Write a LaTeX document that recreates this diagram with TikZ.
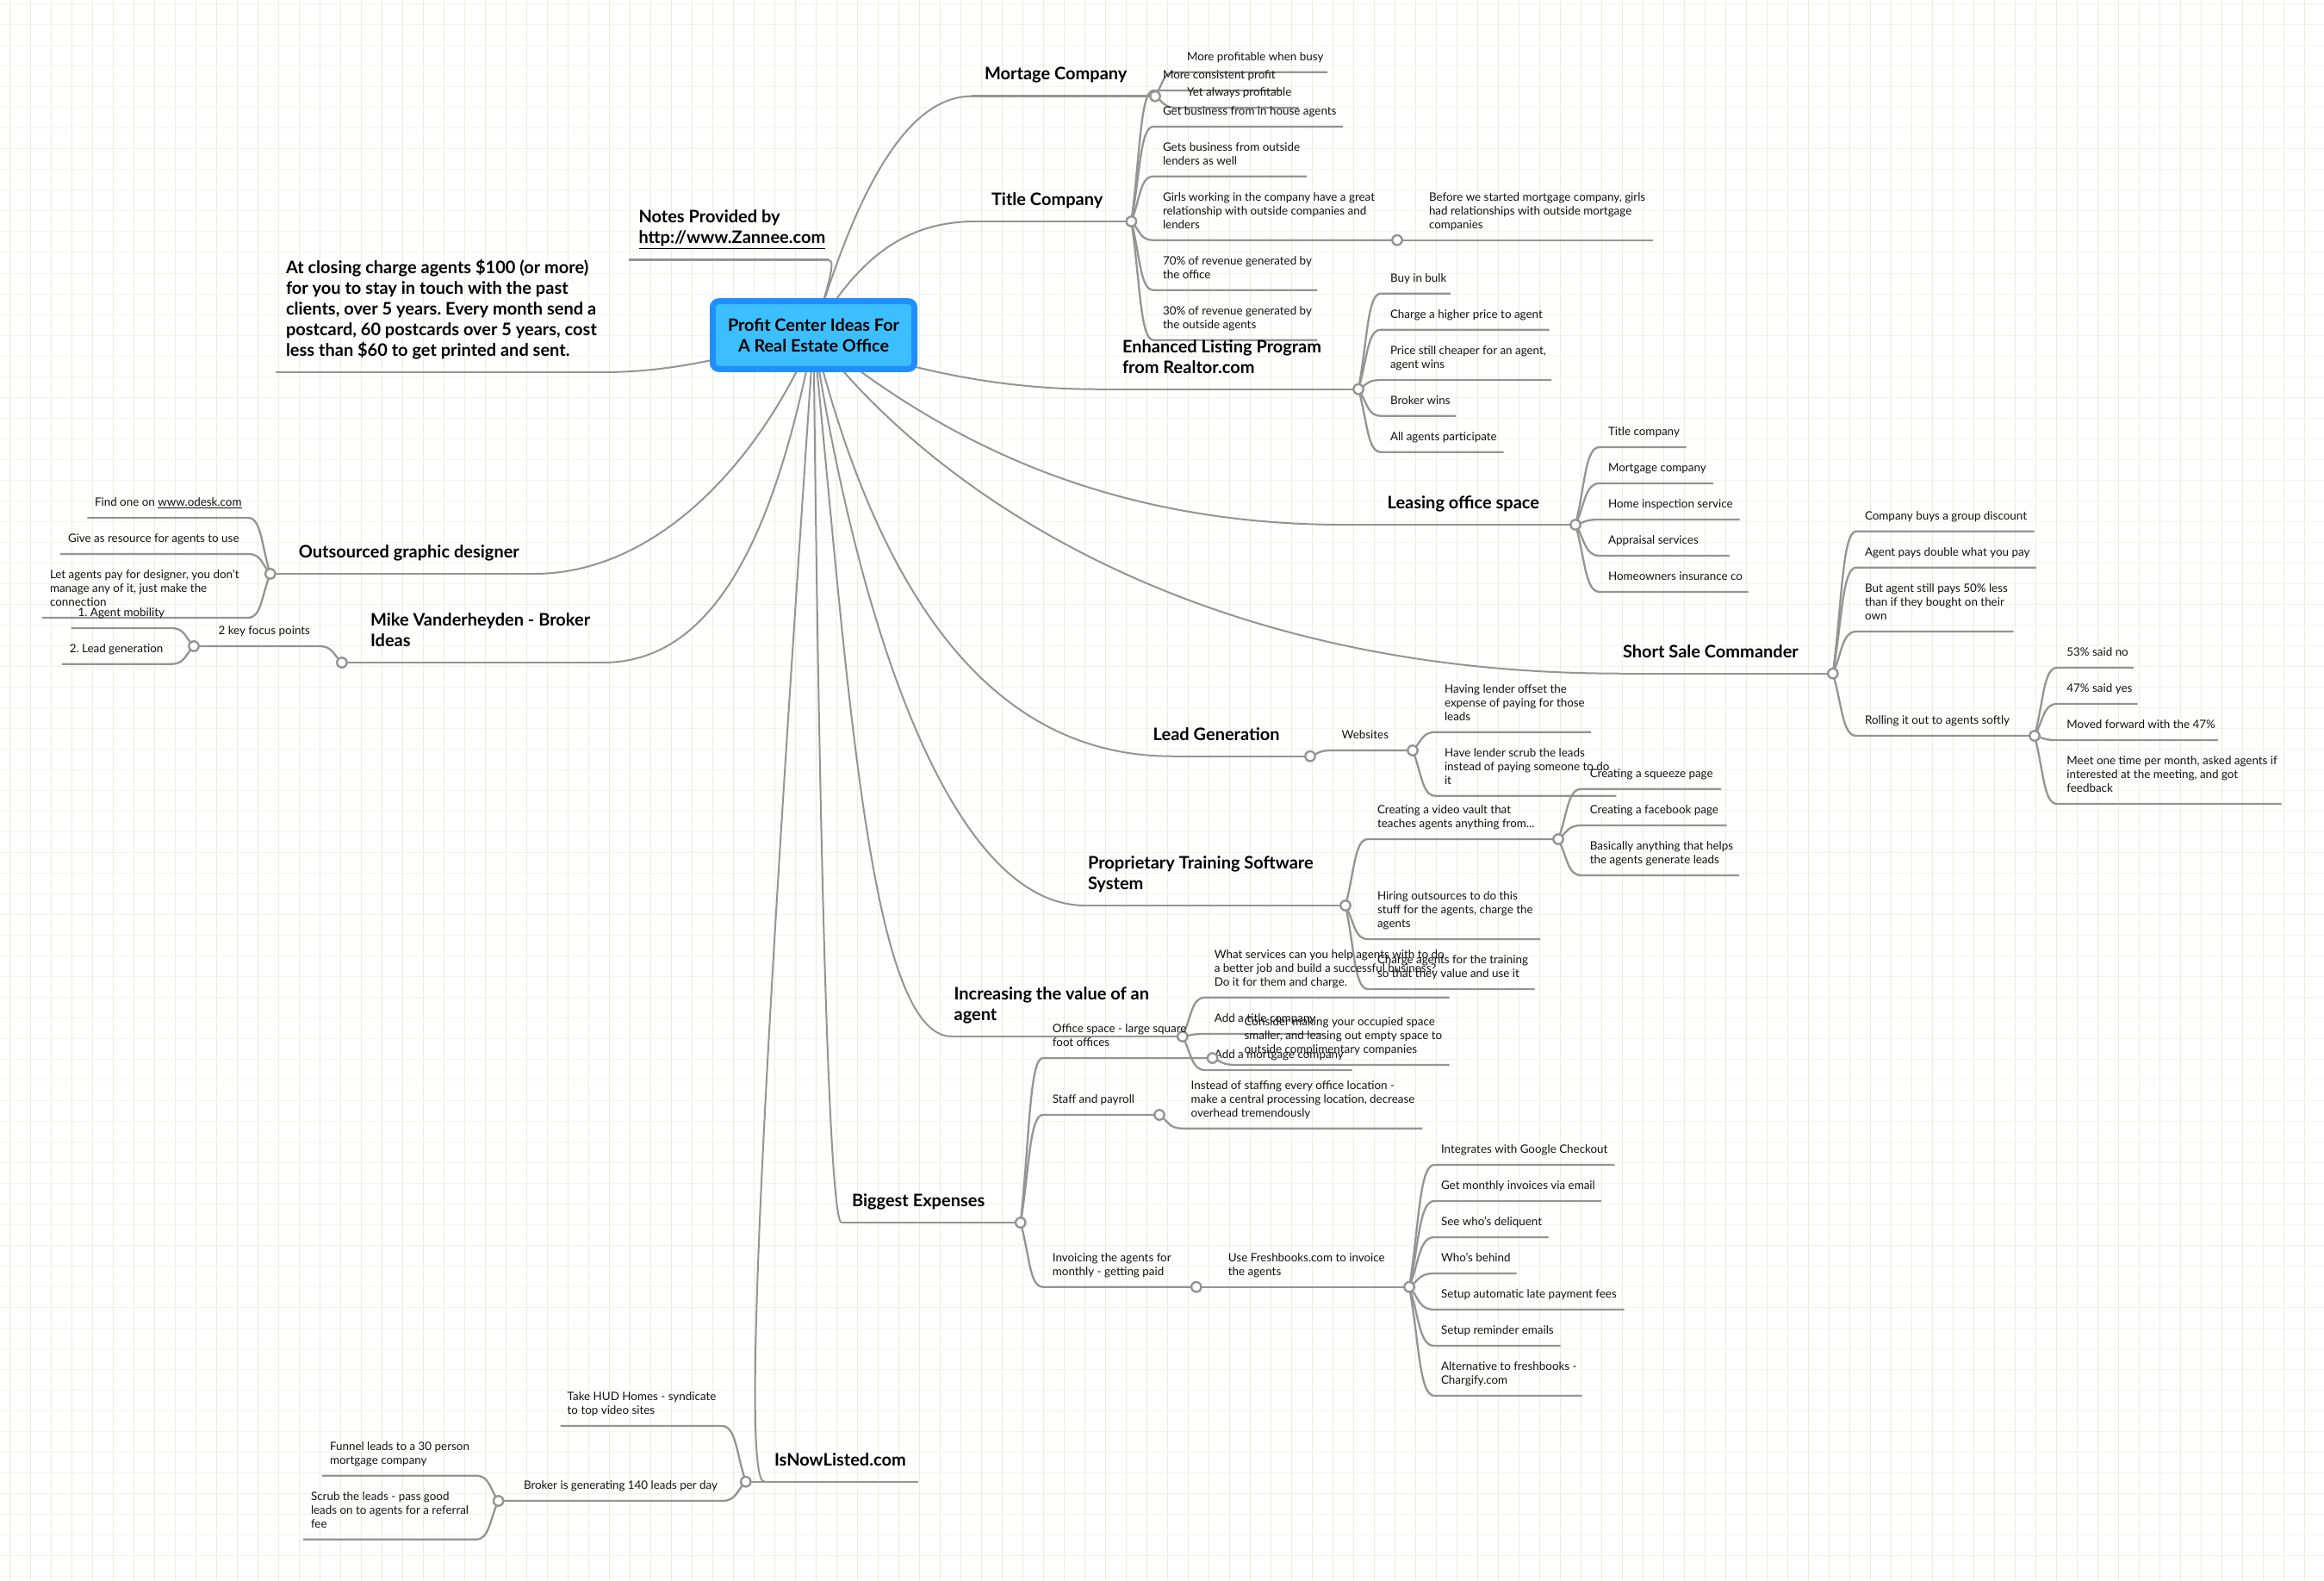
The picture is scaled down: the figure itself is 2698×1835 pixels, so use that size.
\documentclass[tikz,border=0pt]{standalone}
\usepackage{fontspec}
\setmainfont{Lato}
\usetikzlibrary{calc}
\pgfdeclarelayer{bg}
\pgfdeclarelayer{grid}
\pgfsetlayers{grid,bg,main}
\definecolor{linegray}{HTML}{949494}
\definecolor{gridv}{HTML}{E9EEE2}
\definecolor{gridh}{HTML}{F1F5EA}
\definecolor{rootedge}{HTML}{1F8FFF}
\definecolor{rootfill}{HTML}{3DBFFF}
\definecolor{inkc}{HTML}{111111}
\tikzset{
  leaftext/.style={anchor=south west,inner sep=0pt,outer sep=0pt,align=left,text=inkc,font=\fontsize{13.4}{16}\selectfont\frenchspacing},
  headtext/.style={anchor=south west,inner sep=0pt,outer sep=0pt,align=left,text=black,font=\fontsize{20}{24}\selectfont\bfseries\frenchspacing},
  jn/.style={circle,draw=linegray,line width=2.4pt,fill=white,minimum size=11.4pt,inner sep=0pt},
  leafline/.style={draw=linegray,line width=2.3pt},
  brcurve/.style={draw=linegray,line width=2pt},
  brline/.style={draw=linegray,line width=2.4pt},
  rootbox/.style={draw=rootedge,fill=rootfill,line width=7pt,rounded corners=7pt,minimum width=234pt,minimum height=78.6pt,inner sep=0pt,align=center,font=\fontsize{19.8}{24}\selectfont\bfseries,text=black}
}
% {name}{parent}{xstart}{xend}{y}{xtext}{text}
\newcommand\leaf[7]{%
  \coordinate (#1-s) at (#3,#5);
  \coordinate (#1-e) at (#4,#5);
  \node[leaftext] (#1) at (#6,#5-8.7) {#7\strut};
  \begin{pgfonlayer}{bg}
  \draw[leafline] let \p1=(#2.center), \p2=(#1-s) in (#2.center) .. controls ({\x1+0.4*(\x2-\x1)},{0.5*(\y1+\y2)}) and ({\x1+0.4*(\x2-\x1)},\y2) .. (#1-s) -- (#1-e);
  \end{pgfonlayer}
}
% {name}{x}{y}
\newcommand\junc[3]{\node[jn] (#1) at (#2,#3) {};}
% {name}{c1}{c2}{bend}{to}
\newcommand\branch[5]{%
  \coordinate (#1-b) at #4;
  \begin{pgfonlayer}{bg}
  \draw[brcurve] (root.center) .. controls #2 and #3 .. (#1-b);
  \draw[brline] (#1-b) -- (#5);
  \end{pgfonlayer}
}
% {name}{x}{yline}{text}
\newcommand\head[4]{\node[headtext] (#1) at (#2,#3-11.5) {#4\strut};}
\begin{document}
\begin{tikzpicture}[x=1pt,y=-1pt]
\useasboundingbox (0,0) rectangle (2698,1835);
\begin{pgfonlayer}{grid}
\fill[white] (0,0) rectangle (2698,1835);
\foreach \k in {0,...,76} {\draw[gridh,line width=1pt] (0,5+24*\k) -- (2698,5+24*\k);}
\foreach \k in {0,...,112} {\draw[gridv,line width=1pt] (11.3+24*\k,0) -- (11.3+24*\k,1835);}
\end{pgfonlayer}

\node[rootbox] (root) at (944.5,389) {Profit Center Ideas For\\A Real Estate Office};

% Notes
\coordinate (notes-e) at (729.5,301.7);
\coordinate (notes-b) at (962,301.7);
\head{notes}{741.5}{301.7}{Notes Provided by\\\underline{http://www.Zannee.com}}
\begin{pgfonlayer}{bg}
\draw[brcurve] (root.center) .. controls (958,340) and (972,302) .. (notes-b);
\draw[brline] (notes-b) -- (notes-e);
\end{pgfonlayer}

% At closing
\coordinate (close-e) at (320,432);
\head{close}{332}{432}{At closing charge agents \$100 (or more)\\for you to stay in touch with the past\\clients, over 5 years. Every month send a\\postcard, 60 postcards over 5 years, cost\\less than \$60 to get printed and sent.}
\branch{closebr}{(860,410)}{(790,432)}{(700,432)}{close-e}

% Mortage
\junc{jm}{1341}{111.7}
\head{mort}{1143}{111.7}{Mortage Company}
\branch{mortbr}{(1000,200)}{(1060,111.7)}{(1128,111.7)}{jm.center}
\leaf{m1}{jm}{1364}{1541}{83.7}{1378}{More profitable when busy}
\leaf{m2}{jm}{1366}{1507.6}{125}{1378}{Yet always profitable}

% Title
\junc{jt}{1313.4}{257}
\head{titl}{1151}{257}{Title Company}
\branch{titlbr}{(1000,290)}{(1060,257)}{(1133,257)}{jt.center}
\leaf{t1}{jt}{1339}{1488}{105}{1350}{More consistent profit}
\leaf{t2}{jt}{1339}{1559}{147}{1350}{Get business from in house agents}
\leaf{t3}{jt}{1339}{1517}{204.7}{1350}{Gets business from outside\\lenders as well}
\junc{jg}{1622}{278.7}
\leaf{t4}{jt}{1339}{1622}{278.7}{1350}{Girls working in the company have a great\\relationship with outside companies and\\lenders}
\leaf{t5}{jg}{1650}{1919}{278.7}{1659}{Before we started mortgage company, girls\\had relationships with outside mortgage\\companies}
\leaf{t6}{jt}{1339}{1529}{336.7}{1350}{70\% of revenue generated by\\the office}
\leaf{t7}{jt}{1339}{1529}{394.7}{1350}{30\% of revenue generated by\\the outside agents}

% Enhanced
\junc{je}{1577}{451.7}
\head{enh}{1303}{451.7}{Enhanced Listing Program\\from Realtor.com}
\branch{enhbr}{(1040,425)}{(1150,451.7)}{(1271,451.7)}{je.center}
\leaf{e1}{je}{1603}{1684}{340.7}{1614}{Buy in bulk}
\leaf{e2}{je}{1603}{1798.7}{382.7}{1614}{Charge a higher price to agent}
\leaf{e3}{je}{1603}{1801}{441}{1614}{Price still cheaper for an agent,\\agent wins}
\leaf{e4}{je}{1603}{1690}{482.7}{1614}{Broker wins}
\leaf{e5}{je}{1603}{1745.5}{524.7}{1614}{All agents participate}

% Leasing
\junc{jl}{1829}{609}
\head{leas}{1610.6}{609}{Leasing office space}
\branch{leasbr}{(1080,500)}{(1270,609)}{(1560,609)}{jl.center}
\leaf{l1}{jl}{1857}{1957.6}{519}{1867}{Title company}
\leaf{l2}{jl}{1857}{1989}{561}{1867}{Mortgage company}
\leaf{l3}{jl}{1857}{2019.6}{603}{1867}{Home inspection service}
\leaf{l4}{jl}{1857}{2008}{645}{1867}{Appraisal services}
\leaf{l5}{jl}{1857}{2029.5}{687}{1867}{Homeowners insurance co}

% Short sale
\junc{js}{2127.8}{781.7}
\head{shrt}{1884}{781.7}{Short Sale Commander}
\branch{shrtbr}{(1090,580)}{(1400,781.7)}{(1880,781.7)}{js.center}
\leaf{s1}{js}{2155}{2361.5}{616.7}{2165}{Company buys a group discount}
\leaf{s2}{js}{2155}{2363.8}{658.7}{2165}{Agent pays double what you pay}
\leaf{s3}{js}{2155}{2337.5}{733}{2165}{But agent still pays 50\% less\\than if they bought on their\\own}
\junc{jr}{2362}{854}
\leaf{s4}{js}{2155}{2362}{854}{2165}{Rolling it out to agents softly}
\leaf{r1}{jr}{2388}{2476.8}{775}{2399.4}{53\% said no}
\leaf{r2}{jr}{2388}{2481.7}{817}{2399.4}{47\% said yes}
\leaf{r3}{jr}{2388}{2574.8}{859}{2399.4}{Moved forward with the 47\%}
\leaf{r4}{jr}{2388}{2648.7}{933}{2399.4}{Meet one time per month, asked agents if\\interested at the meeting, and got\\feedback}

% Lead generation
\junc{jg1}{1521}{877.7}
\head{lead}{1338.7}{877.7}{Lead Generation}
\branch{leadbr}{(1000,610)}{(1110,877.7)}{(1360,877.7)}{jg1.center}
\junc{jg2}{1640}{871}
\leaf{w0}{jg1}{1546}{1640}{871}{1557.7}{Websites}
\leaf{w1}{jg2}{1666.7}{1847}{849.7}{1677}{Having lender offset the\\expense of paying for those\\leads}
\leaf{w2}{jg2}{1666.7}{1876.4}{923.7}{1677}{Have lender scrub the leads\\instead of paying someone to do\\it}

% Proprietary
\junc{jp}{1562}{1051}
\head{prop}{1263}{1051}{Proprietary Training Software\\System}
\branch{propbr}{(990,690)}{(1095,1051)}{(1260,1051)}{jp.center}
\junc{jv}{1809}{974}
\leaf{p1}{jp}{1588}{1809}{974}{1599}{Creating a video vault that\\teaches agents anything from...}
\leaf{v1}{jv}{1836}{1998}{915.7}{1845.8}{Creating a squeeze page}
\leaf{v2}{jv}{1836}{2004.6}{958}{1845.8}{Creating a facebook page}
\leaf{v3}{jv}{1836}{2018.8}{1016}{1845.8}{Basically anything that helps\\the agents generate leads}
\leaf{p2}{jp}{1588}{1788.4}{1090}{1599}{Hiring outsources to do this\\stuff for the agents, charge the\\agents}
\leaf{p3}{jp}{1588}{1781.5}{1148}{1599}{Charge agents for the training\\so that they value and use it}

% Increasing
\junc{ji}{1372.8}{1203}
\head{incr}{1107.6}{1203}{Increasing the value of an\\agent}
\branch{incrbr}{(985,800)}{(1010,1203)}{(1105,1203)}{ji.center}
\leaf{i1}{ji}{1399}{1682.6}{1157.7}{1409.8}{What services can you help agents with to do\\a better job and build a successful business?\\Do it for them and charge.}
\leaf{i2}{ji}{1399}{1535}{1200}{1409.8}{Add a title company}
\leaf{i3}{ji}{1399}{1569.6}{1242}{1409.8}{Add a mortgage company}

% Biggest expenses
\junc{jb}{1184.8}{1419}
\head{bigg}{989}{1419}{Biggest Expenses}
\branch{biggbr}{(950,900)}{(961,1419)}{(977,1419)}{jb.center}
\junc{jo}{1407.6}{1228}
\leaf{b1}{jb}{1210.7}{1407.6}{1228}{1221.9}{Office space - large square\\foot offices}
\leaf{o1}{jo}{1434.8}{1682.6}{1236}{1444.6}{Consider making your occupied space\\smaller, and leasing out empty space to\\outside complimentary companies}
\junc{jst}{1346}{1294}
\leaf{b2}{jb}{1210.7}{1346}{1294}{1221.9}{Staff and payroll}
\leaf{st1}{jst}{1373}{1651.3}{1309.7}{1382.6}{Instead of staffing every office location -\\make a central processing location, decrease\\overhead tremendously}
\junc{jin}{1388.8}{1493.7}
\leaf{b3}{jb}{1210.7}{1388.8}{1493.7}{1221.9}{Invoicing the agents for\\monthly - getting paid}
\junc{jf}{1636}{1493.7}
\leaf{f0}{jin}{1415}{1636}{1493.7}{1425.9}{Use Freshbooks.com to invoice\\the agents}
\leaf{f1}{jf}{1665}{1874.7}{1352}{1673}{Integrates with Google Checkout}
\leaf{f2}{jf}{1665}{1859}{1394}{1673}{Get monthly invoices via email}
\leaf{f3}{jf}{1665}{1797.7}{1436}{1673}{See who's deliquent}
\leaf{f4}{jf}{1665}{1760.7}{1478}{1673}{Who's behind}
\leaf{f5}{jf}{1665}{1885.7}{1520}{1673}{Setup automatic late payment fees}
\leaf{f6}{jf}{1665}{1811.7}{1562}{1673}{Setup reminder emails}
\leaf{f7}{jf}{1665}{1836.7}{1620}{1673}{Alternative to freshbooks -\\Chargify.com}

% IsNowListed
\junc{jn1}{865.8}{1719.7}
\coordinate (isn-e) at (1066,1719.7);
\head{isn}{899}{1719.7}{IsNowListed.com}
\branch{isnbr}{(900,1050)}{(855,1730)}{(888,1719.7)}{isn-e}
\begin{pgfonlayer}{bg}\draw[brline] (jn1.center) -- (isnbr-b);\end{pgfonlayer}
\leaf{n1}{jn1}{838}{650.5}{1655}{658.7}{Take HUD Homes - syndicate\\to top video sites}
\junc{jn2}{578.6}{1742}
\leaf{n2}{jn1}{838}{578.6}{1742}{608}{Broker is generating 140 leads per day}
\leaf{n3}{jn2}{552.5}{374}{1712.7}{383}{Funnel leads to a 30 person\\mortgage company}
\leaf{n4}{jn2}{552.5}{352}{1786.7}{361}{Scrub the leads - pass good\\leads on to agents for a referral\\fee}

% Outsourced
\junc{jd}{313.8}{666}
\head{outs}{346.9}{666}{Outsourced graphic designer}
\branch{outsbr}{(880,540)}{(760,666)}{(620,666)}{jd.center}
\leaf{d1}{jd}{288}{101.3}{601}{110}{Find one on \underline{www.odesk.com}}
\leaf{d2}{jd}{288}{70}{643}{79}{Give as resource for agents to use}
\leaf{d3}{jd}{288}{49}{717}{58}{Let agents pay for designer, you don't\\manage any of it, just make the\\connection}

% Mike
\junc{jk}{396.9}{769}
\head{mike}{430}{769}{Mike Vanderheyden - Broker\\Ideas}
\branch{mikebr}{(900,620)}{(830,769)}{(700,769)}{jk.center}
\junc{jk2}{225}{750}
\leaf{k0}{jk}{370.5}{225}{750}{253.6}{2 key focus points}
\leaf{k1}{jk2}{198.7}{82.6}{729}{90.6}{1. Agent mobility}
\leaf{k2}{jk2}{198.7}{71.9}{770.7}{80.8}{2. Lead generation}
\end{tikzpicture}
\end{document}
